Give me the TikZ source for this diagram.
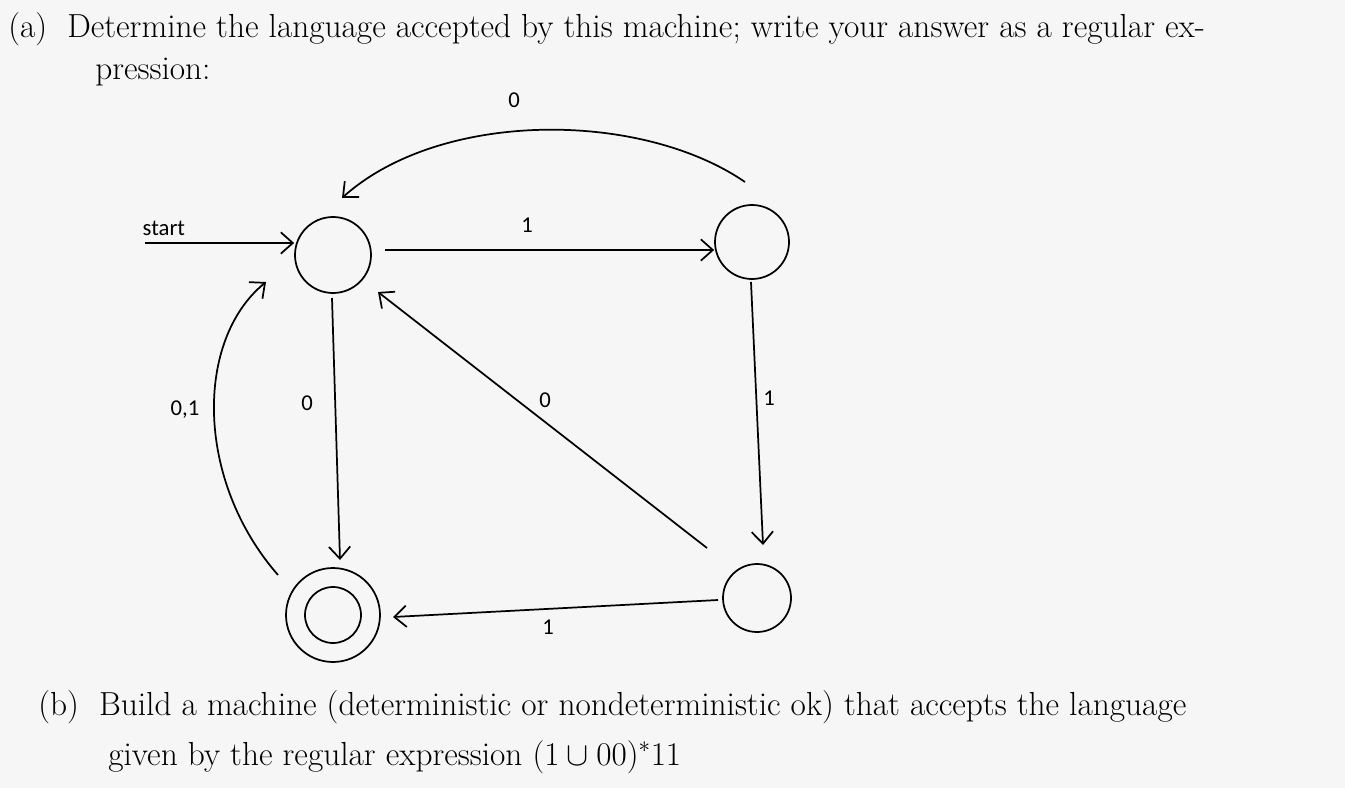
\documentclass[tikz,border=0pt]{standalone}
\usepackage{fontspec}
\newfontfamily\lab{Carlito}
\usepackage{amssymb}
\usetikzlibrary{arrows.meta}
\begin{document}
\begin{tikzpicture}[x=0.75pt,y=-0.75pt,
 st/.style={circle,draw,line width=1.3pt,inner sep=0pt},
 ed/.style={-{Straight Barb[length=9pt,width=16pt]},line width=1.3pt},
 lb/.style={font=\lab\fontsize{17}{20}\selectfont},
 qt/.style={font=\fontsize{25}{29}\selectfont,anchor=base west,inner sep=0pt}]
\useasboundingbox (0,0) rectangle (1345,788);
\fill[white!93!gray] (0,0) rectangle (1345,788);
\node[qt] (ta) at (8,38) {(a)\ \ Determine the language accepted by this machine; write your answer as a regular ex-};
\node[qt] (ta2) at (95,80) {pression:};
\node[qt] (tb) at (38,715) {(b)\ \ Build a machine (deterministic or nondeterministic ok) that accepts the language};
\node[qt] (tb2) at (108,765) {given by the regular expression $(1\cup 00)^{*}11$};
\node[st,minimum size=76pt*0.75] (q0) at (333,255) {};
\node[st,minimum size=74pt*0.75] (q1) at (752,242) {};
\node[st,minimum size=94pt*0.75] (q2) at (333,615) {};
\node[st,minimum size=56pt*0.75] (q2i) at (333,615) {};
\node[st,minimum size=68pt*0.75] (q3) at (757,598) {};
\coordinate (s) at (145,243);
\node[lb,anchor=south west] (sl) at (138,240) {start};
\draw[ed] (s) -- (q0.west|-s);
\draw[ed] (385,250) -- (q1.west|-0,250);
\node[lb] (l1) at (527,225) {1};
\draw[ed] (745,182) .. controls (640,110) and (440,110) .. (342,198);
\node[lb] (l2) at (514,100) {0};
\draw[ed] (751,282) -- (763,545);
\node[lb] (l3) at (769,398) {1};
\draw[ed] (332,298) -- (340,560);
\node[lb] (l4) at (307,403) {0};
\draw[ed] (707,548) -- (378,292);
\node[lb] (l5) at (545,400) {0};
\draw[ed] (718,600) -- (393,617);
\node[lb] (l6) at (548,627) {1};
\draw[ed] (278,575) .. controls (195,480) and (195,340) .. (266,282);
\node[lb] (l7) at (185,410) {0,1};
\end{tikzpicture}
\end{document}
